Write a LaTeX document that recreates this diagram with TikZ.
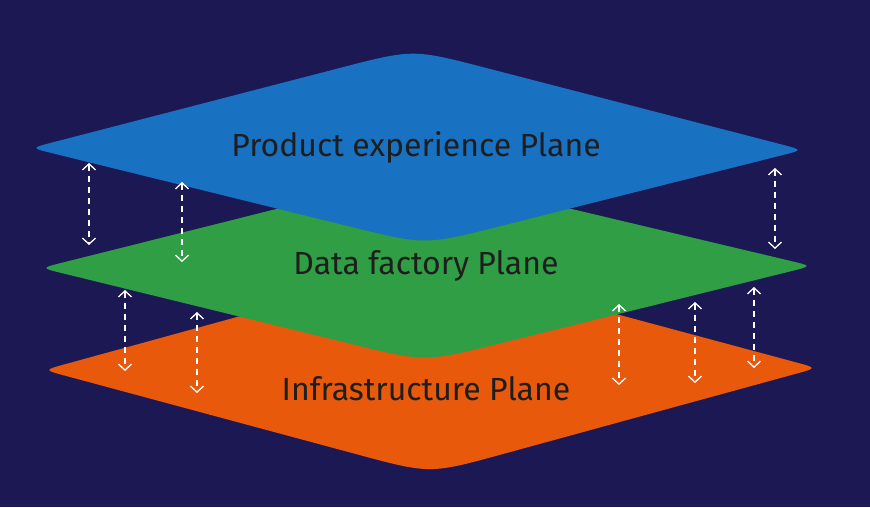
\documentclass[tikz,border=0pt]{standalone}
\usepackage{fontspec}
\setmainfont{Fira Sans}
\usetikzlibrary{calc, arrows.meta}
\definecolor{cBg}{RGB}{28,24,84}
\definecolor{cBlue}{RGB}{25,113,194}
\definecolor{cGreen}{RGB}{47,158,68}
\definecolor{cOrange}{RGB}{232,89,12}
\definecolor{cInk}{RGB}{30,30,30}

% plane: name, left, top, right, bottom corner, colour
\newcommand{\plane}[6]{%
  \coordinate (#1L) at #2;
  \coordinate (#1T) at #3;
  \coordinate (#1R) at #4;
  \coordinate (#1B) at #5;
  \fill[#6] ($(#1L)!22pt!(#1T)$) -- ($(#1T)!75pt!(#1L)$)
    .. controls (#1T) .. ($(#1T)!75pt!(#1R)$) -- ($(#1R)!22pt!(#1T)$)
    .. controls (#1R) .. ($(#1R)!22pt!(#1B)$) -- ($(#1B)!75pt!(#1R)$)
    .. controls (#1B) .. ($(#1B)!75pt!(#1L)$) -- ($(#1L)!22pt!(#1B)$)
    .. controls (#1L) .. ($(#1L)!22pt!(#1T)$) -- cycle;
}

\begin{document}
\begin{tikzpicture}[x=1pt, y=-1pt,
                    planetext/.style={text=cInk, font=\fontsize{32}{38}\selectfont},
                    link/.style={white, line width=1.3pt, dash pattern=on 6pt off 5pt,
                                 {Straight Barb[length=6pt,width=13pt]}-{Straight Barb[length=6pt,width=13pt]}}]

    % Background
    \fill[cBg] (0,0) rectangle (870,507);
    \useasboundingbox (0,0) rectangle (870,507);

    % Planes, bottom to top
    \plane{inf}{(44,370)}{(430,264)}{(817,368)}{(430,474)}{cOrange}
    \plane{df}{(41,268)}{(420,173)}{(812,266)}{(425,362)}{cGreen}
    \plane{pe}{(31,148)}{(413,49)}{(803,150)}{(425,245)}{cBlue}

    % Labels
    \node[planetext] (pe)  at (416,147) {Product experience Plane};
    \node[planetext] (df)  at (426,266) {Data factory Plane};
    \node[planetext] (inf) at (426,389) {Infrastructure Plane};

    % Links between planes
    \foreach \i/\x/\ya/\yb in {1/89/163/245, 2/182/182/262, 3/775/168/249,
                               4/125/290/371, 5/197/312/393, 6/619/304/385,
                               7/695/302/383, 8/754/287/368} {
        \coordinate (lt\i) at (\x,\ya);
        \coordinate (lb\i) at (\x,\yb);
        \draw[link] (lt\i) -- (lb\i);
    }

\end{tikzpicture}
\end{document}
